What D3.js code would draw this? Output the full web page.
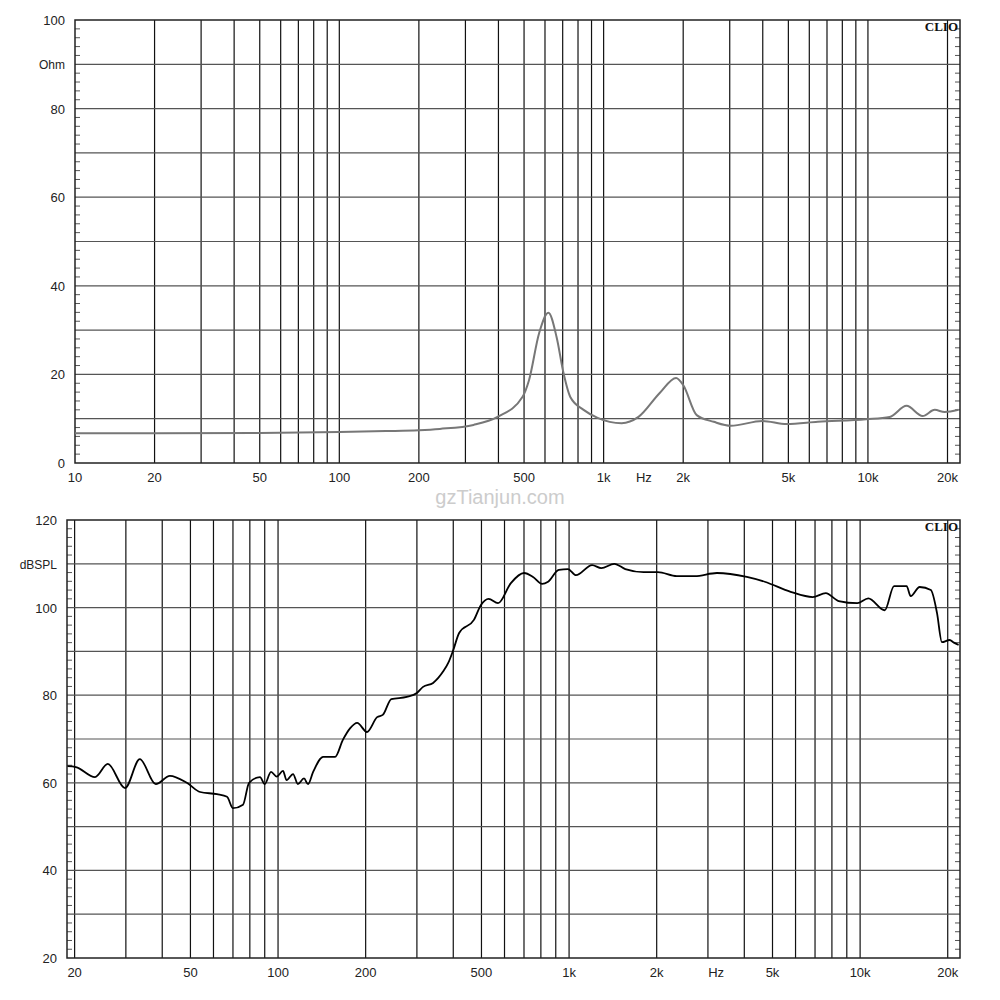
<!DOCTYPE html>
<html>
<head>
<meta charset="utf-8">
<script src="https://cdn.jsdelivr.net/npm/d3@7"></script>
<style>
  body { margin: 0; background: #fff; }
  text { font-family: "Liberation Sans", Arial, sans-serif; }
  text.clio { font-family: "Liberation Serif", serif; }
</style>
</head>
<body>
<div id="chart-container"></div>
<script>
// impedance curve (Hz, Ohm)
const impFreq = [10, 20, 50, 100, 150, 200, 240, 322, 397, 493, 522, 570, 618, 664, 705, 748, 840, 949, 1170, 1355, 1630, 1880, 2000, 2250, 2610, 3030, 3990, 4920, 6460, 9830, 12080, 14000, 16100, 17900, 19500, 22000];
const impOhm  = [6.7, 6.7, 6.8, 7.0, 7.2, 7.4, 7.7, 8.6, 10.4, 14.9, 18.7, 29.3, 33.9, 28.4, 20.3, 14.9, 12.0, 10.2, 9.0, 10.4, 15.8, 19.2, 17.6, 10.8, 9.3, 8.4, 9.5, 8.8, 9.3, 9.9, 10.4, 12.9, 10.6, 12.0, 11.5, 12.0];

// SPL curve (Hz, dB)
const splFreq = [18.9, 20.2, 23.5, 26, 29.8, 33.5, 38, 42.5, 48.6, 54, 61.7, 66.8, 70, 75.8, 79.5, 86.7, 90, 94.6, 99, 104, 107, 112.6, 117, 122.8, 126.8, 132, 143, 157, 167, 177, 187, 202, 219, 229, 245, 277, 300, 315, 341, 370, 384, 400, 419, 471, 498, 529, 570, 631, 700, 752, 808, 847, 922, 991, 1056, 1200, 1290, 1430, 1560, 1803, 2020, 2345, 2705, 3220, 4080, 4700, 5770, 6870, 7620, 8440, 9780, 10670, 12150, 13080, 14450, 14920, 16020, 17500, 18370, 19100, 20300, 21000, 21800];
const splDb   = [63.8, 63.6, 61.3, 64.3, 58.8, 65.4, 59.7, 61.6, 60.0, 57.9, 57.4, 56.8, 54.2, 55.0, 60.0, 61.3, 59.7, 62.5, 61.4, 62.7, 60.6, 62.0, 59.7, 61.0, 59.7, 62.5, 65.9, 65.9, 69.8, 72.5, 73.7, 71.6, 75.0, 75.5, 79.1, 79.6, 80.5, 81.9, 82.8, 85.5, 87.3, 90.3, 94.2, 97.2, 100.6, 102.0, 101.0, 105.6, 107.9, 107.0, 105.4, 105.9, 108.6, 108.8, 107.4, 109.7, 109.0, 110.0, 108.8, 108.1, 108.1, 107.2, 107.2, 107.9, 107.0, 105.9, 103.6, 102.4, 103.3, 101.5, 101.0, 102.1, 99.4, 104.9, 104.9, 102.6, 104.7, 104.0, 98.8, 92.1, 92.6, 92.0, 91.5];

const impTickVals = [10, 20, 50, 100, 200, 500, 1000, 2000, 5000, 10000, 20000];
const impTickText = ["10", "20", "50", "100", "200", "500", "1k", "2k", "5k", "10k", "20k"];
const splTickVals = [20, 50, 100, 200, 500, 1000, 2000, 5000, 10000, 20000];
const splTickText = ["20", "50", "100", "200", "500", "1k", "2k", "5k", "10k", "20k"];

const svg = d3.select("#chart-container")
    .append("svg")
    .attr("width", 1000)
    .attr("height", 1000);

function drawPanel(cfg) {
    const x = d3.scaleLog().domain(cfg.xDomain).range([cfg.left, cfg.right]);
    const y = d3.scaleLinear().domain(cfg.yDomain).range([cfg.bottom, cfg.top]);
    const g = svg.append("g");

    // vertical grid: every 1..9 x decade inside domain
    let vlines = [];
    for (let dec = 10; dec <= 10000; dec *= 10) {
        for (let m = 1; m <= 9; m++) {
            const f = m * dec;
            if (f > cfg.xDomain[0] * 1.01 && f < cfg.xDomain[1] * 0.99) vlines.push(f);
        }
    }
    g.selectAll(".vl").data(vlines).enter().append("line")
        .attr("x1", d => x(d)).attr("x2", d => x(d))
        .attr("y1", cfg.top).attr("y2", cfg.bottom)
        .attr("stroke", "#111").attr("stroke-width", 1.2);

    // horizontal grid every 10
    g.selectAll(".hl").data(d3.range(cfg.yDomain[0] + 10, cfg.yDomain[1], 10)).enter().append("line")
        .attr("x1", cfg.left).attr("x2", cfg.right)
        .attr("y1", d => y(d)).attr("y2", d => y(d))
        .attr("stroke", "#555").attr("stroke-width", 1.2);

    // minor ticks on both edges every 2
    const minor = d3.range(cfg.yDomain[0] + 2, cfg.yDomain[1], 2).filter(d => (d - cfg.yDomain[0]) % 10 !== 0);
    g.selectAll(".mtl").data(minor).enter().append("line")
        .attr("x1", cfg.left).attr("x2", cfg.left + 5)
        .attr("y1", d => y(d)).attr("y2", d => y(d))
        .attr("stroke", "#555");
    g.selectAll(".mtr").data(minor).enter().append("line")
        .attr("x1", cfg.right - 5).attr("x2", cfg.right)
        .attr("y1", d => y(d)).attr("y2", d => y(d))
        .attr("stroke", "#555");

    // frame
    g.append("rect")
        .attr("x", cfg.left).attr("y", cfg.top)
        .attr("width", cfg.right - cfg.left).attr("height", cfg.bottom - cfg.top)
        .attr("fill", "none").attr("stroke", "#222").attr("stroke-width", 1.5);

    // y labels every 20
    g.selectAll(".yl").data(d3.range(cfg.yDomain[0], cfg.yDomain[1] + 1, 20)).enter().append("text")
        .attr("x", cfg.left - 10).attr("y", d => y(d) + 5)
        .attr("text-anchor", "end").attr("font-size", 13).attr("fill", "#222")
        .text(d => d);
    g.append("text")
        .attr("x", cfg.left - 10).attr("y", y(cfg.unitAt) + 5)
        .attr("text-anchor", "end").attr("font-size", 12).attr("fill", "#222")
        .text(cfg.unit);

    // x labels
    g.selectAll(".xl").data(cfg.tickVals).enter().append("text")
        .attr("x", d => x(d)).attr("y", cfg.bottom + 19)
        .attr("text-anchor", "middle").attr("font-size", 13).attr("fill", "#222")
        .text((d, i) => cfg.tickText[i]);
    g.append("text")
        .attr("x", x(cfg.hzAt)).attr("y", cfg.bottom + 19)
        .attr("text-anchor", "middle").attr("font-size", 13).attr("fill", "#222")
        .text("Hz");

    g.append("text")
        .attr("class", "clio")
        .attr("x", cfg.right - 2).attr("y", cfg.top + 11)
        .attr("text-anchor", "end").attr("font-size", 13).attr("font-weight", "bold")
        .attr("fill", "#111")
        .text("CLIO");

    const line = d3.line().curve(d3.curveMonotoneX)
        .x(d => x(d[0])).y(d => y(d[1]));
    g.append("path")
        .datum(cfg.freq.map((f, i) => [f, cfg.vals[i]]))
        .attr("d", line)
        .attr("fill", "none")
        .attr("stroke", cfg.color).attr("stroke-width", cfg.width);
}

drawPanel({
    left: 75, right: 960, top: 20, bottom: 463,
    xDomain: [10, 22300], yDomain: [0, 100],
    tickVals: impTickVals, tickText: impTickText, hzAt: 1420,
    unit: "Ohm", unitAt: 90,
    freq: impFreq, vals: impOhm, color: "#777", width: 2
});

drawPanel({
    left: 67, right: 960, top: 520, bottom: 958,
    xDomain: [18.83, 22040], yDomain: [20, 120],
    tickVals: splTickVals, tickText: splTickText, hzAt: 3200,
    unit: "dBSPL", unitAt: 110,
    freq: splFreq, vals: splDb, color: "#000", width: 1.8
});

// watermark
svg.append("text")
    .attr("x", 500).attr("y", 504)
    .attr("text-anchor", "middle").attr("font-size", 20).attr("fill", "#ccc")
    .text("gzTianjun.com");
</script>
</body>
</html>
